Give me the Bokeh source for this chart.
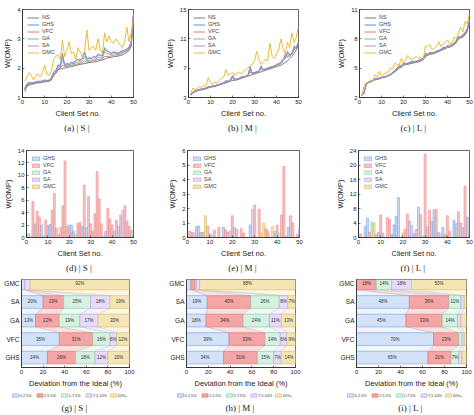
from bokeh.plotting import figure
from bokeh.models import (Range1d, Label, Title, FixedTicker, ColumnDataSource)
from bokeh.layouts import row, column
from bokeh.core.properties import value
from bokeh.embed import file_html
from bokeh.resources import INLINE

SANS = "Liberation Sans"
SERIF = "Liberation Serif"

client = list(range(1, 51))
line_names = ["NS", "GHS", "VFC", "GA", "SA", "GMC"]
bar_names = ["GHS", "VFC", "GA", "SA", "GMC"]

# ---- W(OMP) per client set, |S| (x10^3)
NS_S = [1.20,1.38,1.42,1.45,1.46,1.48,1.50,1.50,1.52,1.53,1.54,1.55,1.60,1.75,1.82,1.95,1.97,1.99,2.00,2.02,
        2.04,2.05,2.07,2.09,2.11,2.13,2.14,2.16,2.17,2.19,2.20,2.21,2.23,2.24,2.26,2.28,2.31,2.34,2.36,2.37,
        2.39,2.40,2.41,2.43,2.45,2.49,2.54,2.60,2.75,3.80]
GHS_S = [1.30,1.45,1.50,1.48,1.50,1.52,1.55,1.53,1.56,1.58,1.57,1.58,1.65,1.85,1.90,2.10,2.05,2.50,2.10,2.15,
         2.12,2.20,2.15,2.25,2.30,2.25,2.35,2.55,2.30,2.35,2.32,2.40,2.35,2.45,2.45,2.40,2.70,2.60,2.55,2.50,
         2.55,2.52,2.50,2.55,2.58,2.60,2.65,2.70,2.90,3.85]
VFC_S = [1.25,1.40,1.45,1.47,1.48,1.50,1.52,1.52,1.54,1.55,1.56,1.57,1.62,1.78,1.85,1.98,2.00,2.10,2.05,2.06,
         2.08,2.10,2.10,2.13,2.15,2.17,2.18,2.25,2.21,2.23,2.24,2.26,2.27,2.30,2.30,2.32,2.40,2.40,2.40,2.42,
         2.44,2.45,2.45,2.48,2.50,2.55,2.58,2.65,2.80,3.82]
GA_S = [1.28,1.42,1.48,1.50,1.49,1.52,1.54,1.53,1.55,1.57,1.56,1.58,1.64,1.80,1.88,2.05,2.02,2.30,2.08,2.10,
        2.10,2.15,2.13,2.18,2.22,2.20,2.25,2.40,2.25,2.28,2.28,2.32,2.30,2.38,2.36,2.35,2.55,2.50,2.48,2.46,
        2.50,2.48,2.47,2.52,2.54,2.58,2.62,2.68,2.85,3.82]
SA_S = [1.32,1.48,1.52,1.50,1.52,1.54,1.56,1.55,1.58,1.60,1.58,1.60,1.68,1.88,1.92,2.12,2.08,2.40,2.12,2.16,
        2.14,2.20,2.18,2.26,2.30,2.28,2.35,2.50,2.32,2.36,2.34,2.40,2.38,2.48,2.45,2.42,2.62,2.58,2.55,2.52,
        2.56,2.54,2.52,2.56,2.60,2.62,2.66,2.72,2.92,3.85]
GMC_S = [1.55,1.70,1.85,1.75,1.60,1.75,1.80,1.70,1.85,2.10,1.80,1.75,1.90,2.30,2.40,2.45,2.30,2.95,2.40,2.60,
         2.90,2.50,2.55,2.30,2.70,2.55,2.40,2.60,3.30,2.60,2.70,2.75,2.60,3.00,2.65,2.50,3.20,2.90,3.10,2.90,
         2.85,3.00,2.90,2.80,2.70,2.90,3.40,2.90,3.20,3.70]

# ---- |M| (x10^3)
NS_M = [3.30,3.60,3.80,3.90,4.00,4.05,4.10,4.20,4.30,4.40,4.45,4.50,4.60,4.70,4.80,4.90,5.00,5.10,5.20,5.30,
        5.35,5.40,5.50,5.60,5.70,5.80,5.90,6.00,6.10,6.20,6.30,6.40,6.50,6.60,6.70,6.80,6.90,7.00,7.10,7.20,
        7.30,7.40,7.60,7.80,8.00,8.30,8.60,9.00,9.50,10.20]
GHS_M = [3.40,3.70,3.90,4.00,4.10,4.15,4.20,4.30,4.50,4.50,4.55,4.60,4.70,4.80,4.90,5.00,5.30,5.20,5.40,6.00,
         5.50,5.50,5.60,5.80,5.80,5.90,6.00,7.20,6.30,6.40,6.50,6.60,7.30,6.80,6.90,7.00,7.10,7.20,7.30,7.50,
         7.60,7.80,8.20,8.30,9.30,8.80,9.00,10.00,9.80,10.60]
VFC_M = [3.35,3.65,3.85,3.95,4.05,4.10,4.15,4.25,4.40,4.45,4.50,4.55,4.65,4.75,4.85,4.95,5.10,5.15,5.30,5.60,
         5.40,5.45,5.55,5.70,5.75,5.85,5.95,6.50,6.20,6.30,6.40,6.50,6.90,6.70,6.80,6.90,7.00,7.10,7.20,7.40,
         7.50,7.60,8.00,9.00,8.50,8.60,8.90,9.50,9.70,10.40]
GA_M = [3.38,3.68,3.88,3.98,4.08,4.12,4.18,4.28,4.42,4.48,4.52,4.58,4.68,4.78,4.88,4.98,5.15,5.18,5.35,5.80,
        5.45,5.48,5.58,5.75,5.78,5.88,5.98,6.80,6.25,6.35,6.45,6.55,7.00,6.75,6.85,6.95,7.05,7.15,7.25,7.45,
        7.55,7.70,8.10,8.60,8.80,8.70,9.00,9.70,9.75,10.50]
SA_M = [3.42,3.72,3.92,4.02,4.12,4.18,4.22,4.32,4.50,4.52,4.58,4.62,4.72,4.82,4.92,5.02,5.25,5.22,5.40,5.90,
        5.52,5.52,5.62,5.82,5.82,5.92,6.02,7.00,6.30,6.40,6.50,6.62,7.20,6.82,6.92,7.02,7.12,7.22,7.32,7.52,
        7.62,7.80,8.20,8.50,9.00,8.80,9.10,9.90,9.85,10.60]
GMC_M = [3.50,4.30,4.00,4.30,4.50,4.40,4.60,4.70,5.70,5.00,4.80,5.10,5.00,5.40,5.60,5.80,6.80,6.00,6.20,6.40,
         6.00,6.30,6.50,6.20,6.60,6.80,7.00,7.30,7.50,8.00,9.30,8.20,7.50,7.80,8.20,8.00,10.40,8.60,8.30,9.00,
         9.50,11.00,9.60,9.00,10.50,9.80,11.80,10.50,11.20,12.70]

# ---- |L| (x10^4)
NS_L = [2.20,2.40,3.30,3.50,3.60,3.70,3.80,3.85,3.90,4.00,4.05,4.10,4.20,4.30,4.45,4.60,4.80,5.00,5.10,5.30,
        5.35,5.40,5.45,5.50,5.55,5.60,5.65,5.75,5.85,6.20,6.30,6.40,6.45,6.50,6.60,6.70,6.80,6.90,7.00,7.10,
        7.15,7.25,7.40,7.60,8.00,8.10,8.20,8.40,8.80,9.80]
GHS_L = [2.25,2.45,3.35,3.55,3.65,3.75,3.90,3.90,4.00,4.05,4.10,4.15,4.25,4.35,4.55,4.70,5.00,5.20,5.20,5.50,
         5.45,5.50,5.60,5.70,5.65,5.70,5.80,5.90,6.00,6.50,6.40,6.60,6.55,6.60,6.75,6.80,6.90,7.10,7.10,7.30,
         7.20,7.40,7.50,7.80,8.20,8.20,8.40,8.60,9.00,9.90]
VFC_L = [2.22,2.42,3.32,3.52,3.62,3.72,3.85,3.88,3.95,4.02,4.08,4.12,4.22,4.32,4.50,4.65,4.90,5.10,5.15,5.40,
         5.40,5.45,5.52,5.60,5.60,5.65,5.72,5.82,5.92,6.30,6.35,6.50,6.50,6.55,6.68,6.75,6.85,7.00,7.05,7.20,
         7.18,7.30,7.45,7.70,8.10,8.15,8.30,8.50,8.90,9.85]
GA_L = [2.24,2.44,3.34,3.54,3.64,3.74,3.88,3.90,3.98,4.04,4.10,4.14,4.24,4.34,4.52,4.68,4.95,5.15,5.18,5.45,
        5.42,5.48,5.56,5.65,5.62,5.68,5.76,5.86,5.96,6.40,6.38,6.55,6.52,6.58,6.72,6.78,6.88,7.05,7.08,7.25,
        7.20,7.35,7.48,7.75,8.15,8.18,8.35,8.55,8.95,9.88]
SA_L = [2.26,2.46,3.36,3.56,3.66,3.76,3.92,3.92,4.02,4.06,4.12,4.16,4.26,4.38,4.58,4.72,5.05,5.25,5.22,5.55,
        5.48,5.52,5.62,5.72,5.68,5.74,5.82,5.92,6.05,6.55,6.42,6.65,6.58,6.62,6.78,6.82,6.95,7.12,7.12,7.35,
        7.24,7.42,7.55,7.85,8.25,8.25,8.45,8.65,9.05,9.95]
GMC_L = [2.30,3.10,3.50,3.60,3.80,3.70,4.30,4.10,4.70,4.20,4.40,4.50,4.60,5.00,4.90,5.50,5.40,5.30,6.00,5.50,
         5.80,6.30,6.00,5.90,6.10,6.20,6.00,6.10,5.90,7.30,7.20,7.40,6.90,7.00,7.20,7.70,7.20,7.50,7.60,7.90,
         7.40,7.50,8.20,8.00,8.60,9.20,8.70,9.80,9.50,10.70]

# ---- bar panels: |S| (x10), |M| (x10^2), |L| (x10^2)
GHS_d = [0,0,0,2.2,0,0,2.0,0,0,1.9, 2.1,0,0,0,0,0,0,0,0,2.0, 2.0,1.0,0,0,0,1.8,0,1.6,0,0,
         0,0,0,0,0,0,1.0,0,0,0, 1.0,0,1.8,0,0,0,0,0,1.2,0]
VFC_d = [0.6,0,5.8,0,4.2,3.3,0,0,2.8,0, 0,4.4,7.1,1.5,0.5,1.6,5.1,12.3,1.8,0, 0.7,0,0,2.3,2.4,0,8.4,0,6.6,2.2,
         1.0,3.8,10.6,6.2,2.2,0,0,4.7,3.0,2.0, 0,2.8,0,3.6,0,5.1,2.6,1.8,0,0]
GA_d = [0,0,0,0,0,0,0,0.3,0,0, 0,0,0,0,0,0,0,0,0,0, 0,0,0.5,0,0,0,0,0,0,0,
        0,0,0,0,0,0,0,0,0,0, 0,0,0,0,0,0,0,0,0,0]
SA_d = [0,0,0,0,0,0,0,0,0,0, 0,0,0,0,0,0,0,0,0,0, 0,0,0,0,0,0,0,0,0,0,
        0,0,0,0,0,0.3,0,0,0,0, 0,0,0,0,4.4,0,0,0,0,0]
GMC_d = [0,0.2,0,0,0,0,0,0,0,0, 0,0,0,0,0,0,0,0,0,0, 0,0,0,0,0,0,0,0,0,0,
         0,0,0,0,0,0,0,0,0,0, 0,0,0,0,0,0,0,0,0,0.5]

GHS_e = [0,0,0,0.75,0.8,0,0.35,0,0,0.25, 0,0,0,0,0,0.7,0,0,0,0, 0.7,0,0,0,0,0,0,0.85,0,0,
         0,0,0,0,0,0,0,0,0.4,0, 0,0,0,0,0.7,0,0,0,0,0.6]
VFC_e = [0.45,0.35,0,0,0,0.35,0,0,0.8,0, 0,0.5,0,0.7,0,0,0.55,0.35,0,1.5, 0,0.55,0,0.6,0.3,0,0,0,0,2.25,
         0,1.95,0,0,0.6,0.45,0,0,0,0.85, 0,1.55,4.9,0,0,1.5,1.0,0,0.2,0]
GA_e = [0,0,0,0,0,0,0,0,0,0, 0.15,0,0,0,0,0,0,0,0,0, 0,0,0,0,0,0,0,0,0,0,
        0,0,0,0,0,0,0,0,0,0, 0.3,0,0,0,0,0,0,0,0,0]
SA_e = [0,0,0.3,0,0,0,0,0,0,0, 0,0,0,0,0,0,0,0,0.45,0, 0,0,0,0,0,0,0,0,1.95,0,
        0,0,0,0,0,0,0,0,0,0, 0,0,0,0.1,0,0,0,0,0,0]
GMC_e = [0,0,0,0,0,0,0,1.5,0,0, 0,0,0,0,0,0,0,0,0,0, 0,0,0,0,0,0,0,0,0,0,
         0,0,0.3,1.0,0,0,0,0.75,0,0, 0,0,0,0,0,0,0,0,0,0]

GHS_f = [0,0,3.0,5.3,0,0,0,0.8,0,0, 1.2,0,0,0,0.8,3.5,5.8,11.0,0,0, 0,0,4.5,0,1.0,0,8.4,0,0,0,
         3.0,0,4.4,7.6,0,1.4,0,2.8,0,0, 0,0,4.8,3.8,0,0,2.7,0,5.6,0]
VFC_f = [1.0,0,0,0,1.5,0,0,0,1.5,6.2, 0,0,5.5,5.0,0,0,0,0,0,0, 2.2,6.5,0,0,0,2.2,0,6.3,0,23.0,
         0,7.5,0,0,7.8,0,0,0,0.8,6.0, 1.7,0,0,0,7.1,4.0,0,14.2,0,1.0]
GA_f = [0,0,0,0,0,4.3,0,0,0,0, 0,0,0,0,0,0,0,0,0,0, 0,0,0,0,0,0,0,0,0.5,0,
        0,0,0,0,0,0,0,0,0,0, 0,0,0,0,0,0,0,0,0,0]
SA_f = [0,0,0,0,0,0,0,0,0,0, 0,0,0,0,0,0,0,0,0,0, 0,0,0,3.3,0,0,0,0,0,0,
        0,0,0,0,0,0,1.0,0,0,0, 0,0,0,0,0,0,0,0,0,0]
GMC_f = [0,0,0,0,0,0,4.0,0,0,0, 0,0,0,0,0,0,0,0,0,1.3, 0,0,0,0,0,0,0,0,0,0,
         0,0,0,0,0,0,0,0,0,0, 0,0,0,0,0,0,0,0,0,0]

# ---- deviation from the ideal (%), columns: GHS, VFC, GA, SA, GMC
algos = ["GHS", "VFC", "GA", "SA", "GMC"]
dev_bins = ["0-2.5%", "2.5-5%", "5-7.5%", "7.5-10%", "10%+"]
dev_S = [[24, 35, 13, 20, 3],
         [26, 31, 22, 19, 0],
         [18, 16, 19, 25, 0],
         [12, 6, 17, 18, 5],
         [20, 12, 30, 19, 92]]
dev_M = [[34, 39, 18, 19, 4],
         [31, 33, 34, 40, 4],
         [15, 14, 24, 26, 1],
         [7, 6, 11, 8, 3],
         [14, 9, 13, 7, 88]]
dev_L = [[65, 70, 45, 48, 0],
         [21, 23, 33, 36, 18],
         [7, 3, 14, 11, 14],
         [3, 2, 3, 3, 18],
         [4, 2, 5, 2, 50]]
dev_captions = ["(g)  | S |", "(h)  | M |", "(i)  | L |"]

LINE_COLORS = ["#6c6c7e", "#4a86d8", "#e06666", "#5cbf95", "#b07fd9", "#e6b422"]
BAR_FILL = ["#bcd2f2", "#f6b2b2", "#c4ecd6", "#ddcdf2", "#f0d99a"]
BAR_LINE = ["#7aa3e2", "#ec8a8a", "#84cfa5", "#b89ee2", "#d9b558"]
DEV_FILL = ["#d3e2f8", "#f4a5a5", "#d5f1e2", "#e8dbf7", "#f5e5b5"]
DEV_LINE = ["#7ea6df", "#e07474", "#86cfa6", "#b9a0e0", "#dcbc6a"]

# column widths and frame borders (left, right) of the three panel columns
COL_W = [155, 159, 160]


def base_fig(w, h, xr, yr, left, right, top, bottom):
    p = figure(width=w, height=h, x_range=Range1d(*xr), y_range=Range1d(*yr),
               output_backend="svg", toolbar_location=None,
               min_border_left=left, min_border_right=right,
               min_border_top=top, min_border_bottom=bottom)
    p.xgrid.visible = False
    p.ygrid.visible = False
    p.outline_line_color = "#222222"
    p.outline_line_width = 0.7
    p.border_fill_color = "white"
    for ax in (p.xaxis[0], p.yaxis[0]):
        ax.axis_line_color = "#222222"
        ax.axis_line_width = 0.7
        ax.major_tick_in = 2
        ax.major_tick_out = 0
        ax.major_tick_line_color = "#222222"
        ax.major_tick_line_width = 0.6
        ax.minor_tick_line_color = None
        ax.major_label_text_font = SANS
        ax.major_label_text_font_size = "6px"
        ax.major_label_text_color = "#222222"
        ax.major_label_standoff = 2
        ax.axis_label_text_font = SANS
        ax.axis_label_text_font_size = "7.5px"
        ax.axis_label_text_font_style = "normal"
        ax.axis_label_text_color = "#222222"
        ax.axis_label_standoff = 2
    return p


def add_caption(p, text):
    p.add_layout(Title(text=text, align="center", text_font=SERIF, text_font_size="9px",
                       text_font_style="normal", text_color="#222222",
                       standoff=1, offset=0), "below")


def add_scale(p, text, x0, ytop):
    p.add_layout(Label(x=x0, y=ytop, x_offset=2, y_offset=1, text=text, text_font=SANS,
                       text_font_size="5.5px", text_baseline="bottom", text_align="left",
                       text_color="#222222"))


def style_legend(p, gw):
    lg = p.legend[0]
    lg.location = "top_left"
    lg.label_text_font = SANS
    lg.label_text_font_size = "5.5px"
    lg.glyph_width = gw
    lg.glyph_height = 5
    lg.label_height = 5
    lg.spacing = 1
    lg.padding = 2
    lg.margin = 3
    lg.label_standoff = 3
    lg.border_line_alpha = 0
    lg.background_fill_alpha = 0


def line_panel(series, yr, yticks, scale, caption, w, left, right):
    p = base_fig(w, 138, (0, 50), yr, left, right, 9, 41)
    p.xaxis.ticker = FixedTicker(ticks=[0, 10, 20, 30, 40, 50])
    p.yaxis.ticker = FixedTicker(ticks=yticks)
    p.xaxis.axis_label = "Client Set no."
    p.yaxis.axis_label = "W(OMP)"
    for name, ys, col in zip(line_names, series, LINE_COLORS):
        p.line(client, ys, line_color=col, line_width=0.9, legend_label=name)
    style_legend(p, 12)
    add_scale(p, scale, 0, yr[1])
    add_caption(p, caption)
    return p


def bar_panel(series, yr, yticks, scale, caption, w, left, right):
    p = base_fig(w, 140, (0, 50), yr, left, right, 12, 41)
    p.xaxis.ticker = FixedTicker(ticks=[0, 10, 20, 30, 40, 50])
    p.yaxis.ticker = FixedTicker(ticks=yticks)
    p.xaxis.axis_label = "Client Set no."
    p.yaxis.axis_label = "W(OMP)"
    for name, vals, fc, lc in zip(bar_names, series, BAR_FILL, BAR_LINE):
        xs = [c for c, v in zip(client, vals) if v > 0]
        ts = [v for v in vals if v > 0]
        src = ColumnDataSource(dict(x=xs, top=ts))
        p.vbar(x="x", top="top", width=0.9, source=src, fill_color=fc, fill_alpha=0.75,
               line_color=lc, line_width=0.6, legend_label=name)
    style_legend(p, 9)
    add_scale(p, scale, 0, yr[1])
    add_caption(p, caption)
    return p


H = 0.68


def dev_panel(shares, w, left, right):
    p = base_fig(w, 112, (0, 100), (-0.53, 4.21), left, right, 1, 19)
    p.xaxis.ticker = FixedTicker(ticks=[0, 20, 40, 60, 80, 100])
    p.yaxis.ticker = FixedTicker(ticks=[0, 1, 2, 3, 4])
    p.yaxis.major_label_overrides = {i: a for i, a in enumerate(algos)}
    p.yaxis.major_label_text_font_size = "6.5px"
    p.yaxis.major_tick_in = 0
    p.xaxis.axis_label = "Deviation from the Ideal (%)"
    n = len(algos)
    ypos = list(range(n))
    lefts, rights = [], []
    acc = [0] * n
    for b in shares:
        lefts.append(acc[:])
        acc = [a + v for a, v in zip(acc, b)]
        rights.append(acc[:])
    # bands joining each bin from one bar to the next
    for k in range(len(shares)):
        xs, ys = [], []
        for j in range(n - 1):
            xs.append([lefts[k][j], rights[k][j], rights[k][j + 1], lefts[k][j + 1]])
            ys.append([j + H / 2, j + H / 2, j + 1 - H / 2, j + 1 - H / 2])
        p.patches(xs, ys, fill_color=DEV_FILL[k], fill_alpha=0.35,
                  line_color=DEV_LINE[k], line_alpha=0.45, line_width=0.5)
    for k, b in enumerate(shares):
        src = ColumnDataSource(dict(y=ypos, left=lefts[k], right=rights[k],
                                    la=[0 if v == 0 else 1 for v in b]))
        p.hbar(y="y", left="left", right="right", height=H, source=src,
               fill_color=DEV_FILL[k], line_color=DEV_LINE[k], line_alpha="la",
               line_width=0.6)
    tx, ty, tt = [], [], []
    for k, b in enumerate(shares):
        for j, v in enumerate(b):
            if v >= 6:
                tx.append((lefts[k][j] + rights[k][j]) / 2)
                ty.append(j)
                tt.append(f"{v}%")
    p.text(x=tx, y=ty, text=tt, text_align="center", text_baseline="middle",
           text_font=value(SANS), text_font_size="4.5px", text_color="#333333")
    return p


def key_strip(borders):
    # one full-width strip, laid out in pixel units: bin swatches and panel captions
    total_w, kh = sum(COL_W), 25
    k = figure(width=total_w, height=kh, x_range=Range1d(0, total_w), y_range=Range1d(0, kh),
               x_axis_type=None, y_axis_type=None, output_backend="svg",
               toolbar_location=None, min_border=0, min_border_left=0, min_border_right=0,
               min_border_top=0, min_border_bottom=0)
    k.xgrid.visible = False
    k.ygrid.visible = False
    k.outline_line_color = None
    sw_x, sw_fill, sw_line, lab_x, labs, cap_x = [], [], [], [], [], []
    cx = 0
    for w, (left, right) in zip(COL_W, borders):
        x0 = cx + left - 9
        for i in range(len(dev_bins)):
            s = x0 + 24.5 * i
            sw_x.append(s + 3)
            sw_fill.append(DEV_FILL[i])
            sw_line.append(DEV_LINE[i])
            lab_x.append(s + 7)
            labs.append(dev_bins[i])
        cap_x.append(cx + left + (w - left - right) / 2)
        cx += w
    k.rect(x=sw_x, y=[kh - 5] * len(sw_x), width=6, height=3.4,
           fill_color=sw_fill, line_color=sw_line, line_width=0.6)
    k.text(x=lab_x, y=[kh - 5] * len(lab_x), text=labs, text_align="left",
           text_baseline="middle", text_font=value(SANS), text_font_size="3.8px",
           text_color="#333333")
    k.text(x=cap_x, y=[kh - 17] * len(cap_x), text=dev_captions, text_align="center",
           text_baseline="middle", text_font=value(SERIF), text_font_size="9px",
           text_color="#222222")
    return k


pa = line_panel([NS_S, GHS_S, VFC_S, GA_S, SA_S, GMC_S], (1, 4), [1, 2, 3, 4], "×10³",
                "(a)  | S |", 155, 20, 22)
pb = line_panel([NS_M, GHS_M, VFC_M, GA_M, SA_M, GMC_M], (3, 15), [3, 7, 11, 15], "×10³",
                "(b)  | M |", 159, 33, 16)
pc = line_panel([NS_L, GHS_L, VFC_L, GA_L, SA_L, GMC_L], (2, 11), [2, 5, 8, 11], "×10⁴",
                "(c)  | L |", 160, 45, 5)

pd = bar_panel([GHS_d, VFC_d, GA_d, SA_d, GMC_d], (0, 14), list(range(0, 15, 2)), "×10",
               "(d)  | S |", 155, 21, 22)
pe = bar_panel([GHS_e, VFC_e, GA_e, SA_e, GMC_e], (0, 6), list(range(0, 7)), "×10²",
               "(e)  | M |", 159, 32, 15)
pf = bar_panel([GHS_f, VFC_f, GA_f, SA_f, GMC_f], (0, 24), list(range(0, 25, 4)), "×10²",
               "(f)  | L |", 160, 44, 5)

dev_borders = [(21, 26), (31, 19), (42, 8)]
pg = dev_panel(dev_S, COL_W[0], *dev_borders[0])
ph = dev_panel(dev_M, COL_W[1], *dev_borders[1])
pi = dev_panel(dev_L, COL_W[2], *dev_borders[2])
keys = key_strip(dev_borders)

layout = column(row(pa, pb, pc, spacing=0),
                row(pd, pe, pf, spacing=0),
                row(pg, ph, pi, spacing=0),
                keys, spacing=0)

open("out.html", "w").write(file_html(layout, INLINE, title="W(OMP) comparison"))
